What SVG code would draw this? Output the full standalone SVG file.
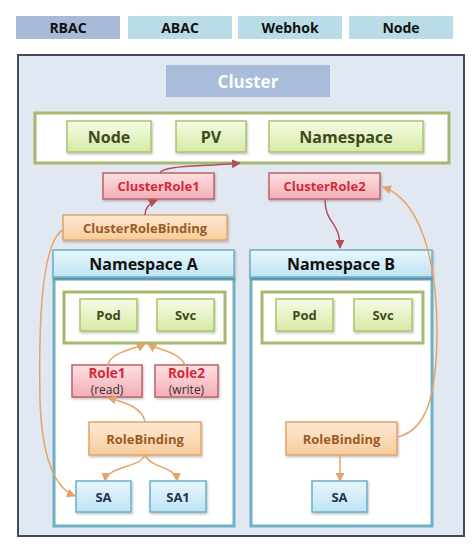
<svg xmlns="http://www.w3.org/2000/svg" width="474" height="545" viewBox="0 0 474 545">
<defs>
<linearGradient id="gGreen" x1="0" y1="0" x2="0" y2="1"><stop offset="0" stop-color="#F6FBE6"/><stop offset="1" stop-color="#D5EAA4"/></linearGradient>
<linearGradient id="gRed" x1="0" y1="0" x2="0" y2="1"><stop offset="0" stop-color="#FCE0E2"/><stop offset="1" stop-color="#F4AEB6"/></linearGradient>
<linearGradient id="gOrange" x1="0" y1="0" x2="0" y2="1"><stop offset="0" stop-color="#FDE9D4"/><stop offset="1" stop-color="#F8CC9C"/></linearGradient>
<linearGradient id="gBlue" x1="0" y1="0" x2="0" y2="1"><stop offset="0" stop-color="#E8F6FC"/><stop offset="1" stop-color="#BFE4F3"/></linearGradient>
<filter id="sh" x="-10%" y="-10%" width="130%" height="140%"><feDropShadow dx="1" dy="1.5" stdDeviation="1" flood-color="#000" flood-opacity="0.25"/></filter>
<marker id="aO" viewBox="0 0 10 10" refX="9" refY="5" markerWidth="9" markerHeight="9" markerUnits="userSpaceOnUse" orient="auto"><path d="M0,0 L10,5 L0,10 z" fill="#E3A468"/></marker>
<marker id="aR" viewBox="0 0 10 10" refX="9" refY="5" markerWidth="9" markerHeight="9" markerUnits="userSpaceOnUse" orient="auto"><path d="M0,0 L10,5 L0,10 z" fill="#B0505A"/></marker>
</defs>
<style>
text{font-family:"Open Sans","Noto Sans","Liberation Sans",sans-serif;font-weight:bold;text-anchor:middle;dominant-baseline:central}
text.sub{font-weight:normal;font-size:12px;fill:#333}
.tab{fill:#B9DCE6}
.tabt{font-size:14px;fill:#111}
.green{fill:url(#gGreen);stroke:#A9C46C;stroke-width:1.5;filter:url(#sh)}
.gt{fill:#3C4A22}
.red{fill:url(#gRed);stroke:#C0606A;stroke-width:1.5;filter:url(#sh)}
.rt{fill:#D42A3A}
.orange{fill:url(#gOrange);stroke:#E3A468;stroke-width:1.5;filter:url(#sh)}
.ot{fill:#9C5A24}
.blue{fill:url(#gBlue);stroke:#6AAFC8;stroke-width:1.5;filter:url(#sh)}
.bt{fill:#24344E}
.cont{fill:#FFFFFF;stroke:#A6B870;stroke-width:3}
.nsb{fill:#FFFFFF;stroke:#6FB0C4;stroke-width:3}
.co{fill:none;stroke:#E3A468;stroke-width:1.5;marker-end:url(#aO)}
.cr{fill:none;stroke:#B0505A;stroke-width:1.5;marker-end:url(#aR)}
</style>
<rect width="474" height="545" fill="#FFFFFF"/>
<g id="tab-rbac"><rect x="16" y="16" width="104" height="23" fill="#A9B9D8"/><text class="tabt" x="68" y="27.5">RBAC</text></g>
<g id="tab-abac"><rect class="tab" x="128" y="16" width="104" height="23"/><text class="tabt" x="180" y="27.5">ABAC</text></g>
<g id="tab-webhok"><rect class="tab" x="238" y="16" width="104" height="23"/><text class="tabt" x="290" y="27.5">Webhok</text></g>
<g id="tab-node"><rect class="tab" x="349" y="16" width="104" height="23"/><text class="tabt" x="401" y="27.5">Node</text></g>
<g id="cluster">
<rect x="18" y="55" width="446" height="481" fill="#E2E8F2" stroke="#3E4C5E" stroke-width="2"/>
<rect x="166" y="65" width="164" height="32" fill="#A9BCD9"/>
<text x="248" y="81.5" font-size="17" fill="#FFFFFF">Cluster</text>
</g>
<g id="cluster-resources">
<rect class="cont" x="35" y="113" width="414" height="50"/>
</g>
<g id="node-node"><rect class="green" x="67" y="121" width="84" height="31"/><text class="gt" x="109" y="136.5" font-size="16">Node</text></g>
<g id="node-pv"><rect class="green" x="176" y="121" width="70" height="31"/><text class="gt" x="211" y="136.5" font-size="16">PV</text></g>
<g id="node-namespace"><rect class="green" x="269" y="121" width="154" height="31"/><text class="gt" x="346" y="136.5" font-size="16">Namespace</text></g>
<g id="clusterrole1"><rect class="red" x="103" y="173" width="111" height="26"/><text class="rt" x="158.5" y="186" font-size="13">ClusterRole1</text></g>
<g id="clusterrole2"><rect class="red" x="269" y="173" width="111" height="26"/><text class="rt" x="324.5" y="186" font-size="13">ClusterRole2</text></g>
<g id="clusterrolebinding"><rect class="orange" x="63" y="215" width="164" height="25"/><text class="ot" x="145" y="227.5" font-size="13">ClusterRoleBinding</text></g>
<g id="namespace-a">
<rect class="nsb" x="54" y="279" width="180" height="247"/>
<rect class="blue" x="53" y="250" width="181" height="27"/>
<text x="143.5" y="264" font-size="16" fill="#111">Namespace A</text>
<rect class="cont" x="64" y="292" width="161" height="51"/>
</g>
<g id="pod-a"><rect class="green" x="80" y="299" width="57" height="32"/><text class="gt" x="108.5" y="315" font-size="13">Pod</text></g>
<g id="svc-a"><rect class="green" x="157" y="299" width="57" height="32"/><text class="gt" x="185.5" y="315" font-size="13">Svc</text></g>
<g id="role1"><rect class="red" x="72" y="365" width="70" height="32"/><text class="rt" x="107" y="372.5" font-size="13.5">Role1</text><text class="sub" x="107" y="389.5">(read)</text></g>
<g id="role2"><rect class="red" x="155" y="365" width="63" height="32"/><text class="rt" x="186.5" y="372.5" font-size="13.5">Role2</text><text class="sub" x="186.5" y="389.5">(write)</text></g>
<g id="rolebinding-a"><rect class="orange" x="89" y="422" width="112" height="33"/><text class="ot" x="145" y="438.5" font-size="13">RoleBinding</text></g>
<g id="sa-a"><rect class="blue" x="76" y="481" width="55" height="31"/><text class="bt" x="103.5" y="496.5" font-size="13">SA</text></g>
<g id="sa1-a"><rect class="blue" x="150" y="481" width="56" height="31"/><text class="bt" x="178" y="496.5" font-size="13">SA1</text></g>
<g id="namespace-b">
<rect class="nsb" x="251" y="279" width="181" height="247"/>
<rect class="blue" x="250" y="250" width="182" height="27"/>
<text x="341" y="264" font-size="16" fill="#111">Namespace B</text>
<rect class="cont" x="262" y="292" width="161" height="51"/>
</g>
<g id="pod-b"><rect class="green" x="276" y="299" width="57" height="32"/><text class="gt" x="304.5" y="315" font-size="13">Pod</text></g>
<g id="svc-b"><rect class="green" x="354" y="299" width="58" height="32"/><text class="gt" x="383" y="315" font-size="13">Svc</text></g>
<g id="rolebinding-b"><rect class="orange" x="286" y="422" width="111" height="33"/><text class="ot" x="341.5" y="438.5" font-size="13">RoleBinding</text></g>
<g id="sa-b"><rect class="blue" x="312" y="481" width="55" height="31"/><text class="bt" x="339.5" y="496.5" font-size="13">SA</text></g>
<g id="connectors">
<path class="cr" d="M160 173 C164 165 200 167 240 163"/>
<path class="cr" d="M145 215 C145 207 150 203 157 200"/>
<path class="cr" d="M325 199 C325 225 340 220 340 248"/>
<path class="co" d="M398 437 C425 430 437 400 437 330 C437 260 420 200 383 187"/>
<path class="co" d="M63 230 C45 240 38 300 40 400 C42 460 55 488 75 496"/>
<path class="co" d="M108 365 C110 352 135 349 145 344"/>
<path class="co" d="M185 365 C180 352 156 349 148 344"/>
<path class="co" d="M145 422 C143 408 125 402 108 398"/>
<path class="co" d="M145 455 C140 468 107 466 105 481"/>
<path class="co" d="M145 455 C150 468 176 466 177 481"/>
<path class="co" d="M340 455 L340 481"/>
</g>
</svg>
